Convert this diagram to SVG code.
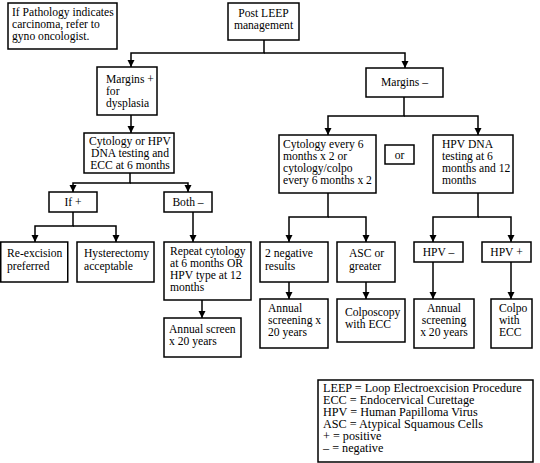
<svg xmlns="http://www.w3.org/2000/svg" width="540" height="463" viewBox="0 0 540 463">
<style>
.b{fill:#fff;stroke:#000;stroke-width:1.5}
text{font-family:"Liberation Serif","Times New Roman",serif;font-size:11.6px;fill:#000}
.c{text-anchor:middle}
.l{font-size:12.2px}
#connectors path{fill:none;stroke:#000;stroke-width:1.5}
</style>
<defs>
<marker id="ah" markerUnits="userSpaceOnUse" markerWidth="8" markerHeight="8" refX="7" refY="3.5" orient="auto">
<path d="M0,0 L7,3.5 L0,7 z" fill="#000"/>
</marker>
</defs>
<rect width="540" height="463" fill="#fff"/>

<g id="connectors">
<path d="M264,40 V53 H131 V67" marker-end="url(#ah)"/>
<path d="M264,53 H405 V68" marker-end="url(#ah)"/>
<path d="M131,115 V133" marker-end="url(#ah)"/>
<path d="M130,173 V183 H73 V192" marker-end="url(#ah)"/>
<path d="M130,183 H188 V192" marker-end="url(#ah)"/>
<path d="M73,212 V226 H35 V242" marker-end="url(#ah)"/>
<path d="M73,226 H116 V242" marker-end="url(#ah)"/>
<path d="M193,212 V242" marker-end="url(#ah)"/>
<path d="M202,300 V318" marker-end="url(#ah)"/>
<path d="M404,97 V116 H328 V135" marker-end="url(#ah)"/>
<path d="M404,116 H478 V135" marker-end="url(#ah)"/>
<path d="M328,193 V217 H289 V242" marker-end="url(#ah)"/>
<path d="M328,217 H366 V242" marker-end="url(#ah)"/>
<path d="M478,193 V217 H433 V242" marker-end="url(#ah)"/>
<path d="M478,217 H511 V242" marker-end="url(#ah)"/>
<path d="M289,282 V299" marker-end="url(#ah)"/>
<path d="M366,282 V299" marker-end="url(#ah)"/>
<path d="M433,262 V299" marker-end="url(#ah)"/>
<path d="M511,262 V299" marker-end="url(#ah)"/>
</g>

<g id="pathology">
<rect class="b" x="8" y="3" width="109" height="46"/>
<text x="12" y="16">If Pathology indicates</text>
<text x="12" y="28">carcinoma, refer to</text>
<text x="12" y="40">gyno oncologist.</text>
</g>

<g id="post-leep">
<rect class="b" x="228" y="3" width="71" height="37"/>
<text class="c" x="263.5" y="17">Post LEEP</text>
<text class="c" x="263.5" y="29">management</text>
</g>

<g id="margins-pos">
<rect class="b" x="97" y="67" width="60" height="48"/>
<text x="106" y="83">Margins +</text>
<text x="106" y="95">for</text>
<text x="106" y="107">dysplasia</text>
</g>

<g id="margins-neg">
<rect class="b" x="366" y="68" width="77" height="29"/>
<text class="c" x="404.5" y="86">Margins –</text>
</g>

<g id="cyto-hpv">
<rect class="b" x="84" y="133" width="90" height="40"/>
<text class="c" x="130" y="145">Cytology or HPV</text>
<text class="c" x="130" y="157">DNA testing and</text>
<text class="c" x="130" y="169">ECC at 6 months</text>
</g>

<g id="if-pos">
<rect class="b" x="49" y="192" width="48" height="20"/>
<text class="c" x="73" y="206">If +</text>
</g>

<g id="both-neg">
<rect class="b" x="164" y="192" width="48" height="20"/>
<text class="c" x="188" y="206">Both –</text>
</g>

<g id="re-excision">
<rect class="b" x="0.75" y="242" width="67" height="40"/>
<text x="7" y="257">Re-excision</text>
<text x="7" y="270">preferred</text>
</g>

<g id="hysterectomy">
<rect class="b" x="77" y="242" width="77" height="40"/>
<text x="84" y="257">Hysterectomy</text>
<text x="84" y="270">acceptable</text>
</g>

<g id="repeat">
<rect class="b" x="164" y="242" width="87" height="58"/>
<text x="170" y="255">Repeat cytology</text>
<text x="170" y="267">at 6 months OR</text>
<text x="170" y="279">HPV type at 12</text>
<text x="170" y="291">months</text>
</g>

<g id="annual-screen">
<rect class="b" x="164" y="318" width="77" height="39"/>
<text x="169" y="333">Annual screen</text>
<text x="169" y="345">x 20 years</text>
</g>

<g id="cyto-every">
<rect class="b" x="279" y="135" width="97" height="58"/>
<text x="283" y="148">Cytology every 6</text>
<text x="283" y="160">months x 2 or</text>
<text x="283" y="172">cytology/colpo</text>
<text x="283" y="184">every 6 months x 2</text>
</g>

<g id="or">
<rect class="b" x="385" y="145" width="29" height="19"/>
<text class="c" x="399.5" y="159">or</text>
</g>

<g id="hpv-dna">
<rect class="b" x="433" y="135" width="80" height="58"/>
<text x="442" y="148">HPV DNA</text>
<text x="442" y="160">testing at 6</text>
<text x="442" y="172">months and 12</text>
<text x="442" y="184">months</text>
</g>

<g id="two-neg">
<rect class="b" x="260" y="242" width="68" height="40"/>
<text x="265" y="257">2 negative</text>
<text x="265" y="270">results</text>
</g>

<g id="asc">
<rect class="b" x="337" y="242" width="58" height="40"/>
<text x="349" y="257">ASC or</text>
<text x="349" y="270">greater</text>
</g>

<g id="hpv-neg">
<rect class="b" x="414" y="242" width="49" height="20"/>
<text class="c" x="438.5" y="256">HPV –</text>
</g>

<g id="hpv-pos">
<rect class="b" x="482" y="242" width="49" height="20"/>
<text class="c" x="506.5" y="256">HPV +</text>
</g>

<g id="annual-screening-1">
<rect class="b" x="260" y="299" width="68" height="49"/>
<text x="268" y="312">Annual</text>
<text x="268" y="324">screening x</text>
<text x="268" y="336">20 years</text>
</g>

<g id="colposcopy">
<rect class="b" x="337" y="299" width="68" height="43"/>
<text x="345" y="316">Colposcopy</text>
<text x="345" y="328">with ECC</text>
</g>

<g id="annual-screening-2">
<rect class="b" x="414" y="299" width="60" height="49"/>
<text class="c" x="444" y="312">Annual</text>
<text class="c" x="444" y="324">screening</text>
<text class="c" x="444" y="336">x 20 years</text>
</g>

<g id="colpo-ecc">
<rect class="b" x="491" y="299" width="41" height="49"/>
<text x="499" y="312">Colpo</text>
<text x="499" y="324">with</text>
<text x="499" y="336">ECC</text>
</g>

<g id="legend">
<rect class="b" x="318" y="380" width="215" height="82"/>
<text class="l" x="323" y="392">LEEP = Loop Electroexcision Procedure</text>
<text class="l" x="323" y="404">ECC = Endocervical Curettage</text>
<text class="l" x="323" y="416">HPV = Human Papilloma Virus</text>
<text class="l" x="323" y="428">ASC = Atypical Squamous Cells</text>
<text class="l" x="323" y="440">+ = positive</text>
<text class="l" x="323" y="452">– = negative</text>
</g>
</svg>
